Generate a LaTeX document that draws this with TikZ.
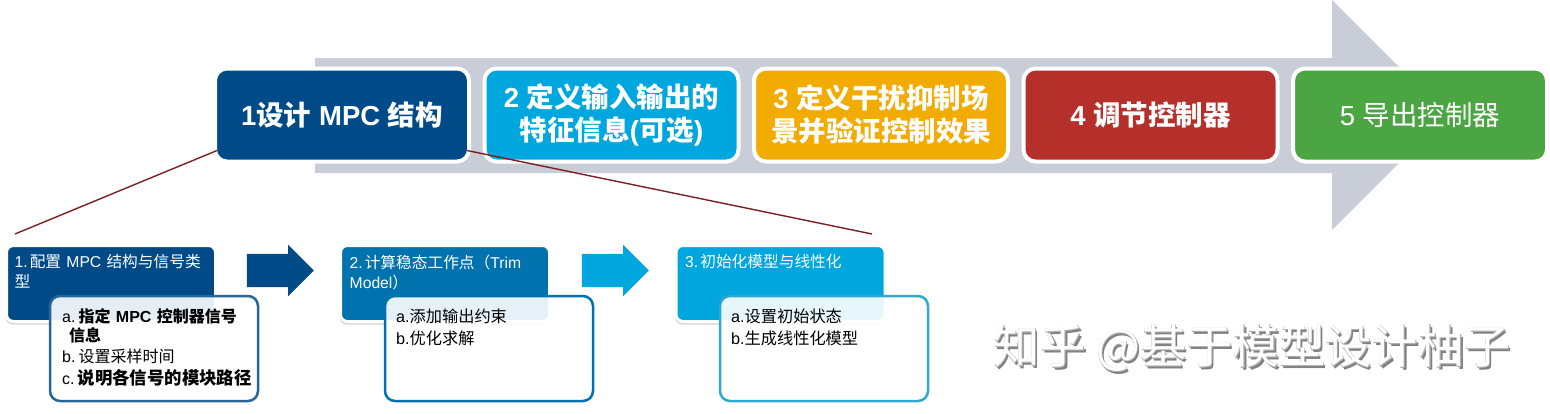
\documentclass[tikz,border=0pt]{standalone}
\usepackage{fontspec}
\setmainfont{Liberation Sans}
\newfontfamily\cjk{Noto Sans CJK SC}
\newfontfamily\wmfont[FakeBold=1.6]{Noto Sans CJK SC}
\newcommand{\zh}[1]{{\cjk #1}}
\newcommand{\stepwidth}{254pt}
\newcommand{\stepheight}{93pt}
\newcommand{\stepgap}{15.5pt}
\newcommand{\subwidth}{209pt}
\newcommand{\subheight}{76pt}
\newcommand{\detailwidth}{208pt}
\newcommand{\detailheight}{105pt}
\newcommand{\wmark}[1]{\rlap{\raisebox{-2.5pt}{\hspace{2.5pt}\textcolor{black!50}{#1}}}\rlap{\textcolor{black!32}{\wmfont #1}}\textcolor{white}{#1}}
\usetikzlibrary{positioning,shadows,shapes.arrows}
\definecolor{flowgray}{HTML}{C8CDD7}
\definecolor{navy}{HTML}{004B87}
\definecolor{sky}{HTML}{00A7DE}
\definecolor{amber}{HTML}{F2AB00}
\definecolor{brick}{HTML}{B5302A}
\definecolor{leaf}{HTML}{4BA543}
\definecolor{midblue}{HTML}{0073AE}
\definecolor{paleblue}{HTML}{30A8D0}
\definecolor{linkred}{HTML}{7A1F22}
\tikzstyle{stepbox}=[draw=white,line width=4pt,rounded corners=12pt,text=white,outer sep=0pt,
                     minimum width=\stepwidth,minimum height=\stepheight,align=center,
                     font=\fontsize{27.5}{33}\selectfont\bfseries]
\tikzstyle{subbox}=[draw=white,line width=3pt,rounded corners=7pt,outer sep=0pt,
                    minimum width=\subwidth,minimum height=\subheight,
                    drop shadow={shadow xshift=-1pt,shadow yshift=-3pt,opacity=0.3}]
\tikzstyle{detailbox}=[line width=2.5pt,rounded corners=10pt,fill=white,fill opacity=0.9,
                       minimum width=\detailwidth,minimum height=\detailheight,outer sep=0pt]
\tikzstyle{subtext}=[text=white,anchor=north west,inner sep=0pt,align=left,text width=198pt,
                     font=\fontsize{15.7}{20}\selectfont]
\tikzstyle{detailtext}=[text=black,anchor=north west,inner sep=0pt,align=left,text width=196pt,
                        font=\fontsize{16.2}{22}\selectfont]
\tikzstyle{flowarrow}=[single arrow,single arrow head extend=9pt,minimum height=67pt,
                       inner ysep=16.5pt,inner xsep=0pt,outer sep=0pt]
\tikzstyle{link}=[draw=linkred,line width=1.4pt]

\begin{document}
\begin{tikzpicture}[x=1pt,y=1pt]
\useasboundingbox (0,-413) rectangle (1550,0);

\fill [flowgray] (315,-58) -- (1332,-58) -- (1332,0) -- (1447,-115) -- (1332,-230) -- (1332,-173) -- (315,-173) -- cycle;

\node [stepbox, fill=navy] (s1) at (342,-115) {1\zh{设计} MPC \zh{结构}};
\node [stepbox, fill=sky, right= \stepgap of s1] (s2) {2 \zh{定义输入输出的}\\\zh{特征信息}(\zh{可选})};
\node [stepbox, fill=amber, right= \stepgap of s2] (s3) {3 \zh{定义干扰抑制场}\\\zh{景并验证控制效果}};
\node [stepbox, fill=brick, right= \stepgap of s3] (s4) {4 \zh{调节控制器}};
\node [stepbox, fill=leaf, right= \stepgap of s4, font=\fontsize{27.5}{33}\selectfont] (s5) {5 \zh{导出控制器}};

\coordinate (c1) at (15,-234);
\coordinate (c2) at (872,-234);
\draw [link] (s1.south west) ++(2,11) -- (c1);
\draw [link] (s1.south east) ++(-2,11) -- (c2);

\node [subbox, fill=navy] (b1) at (111,-283.5) {};
\node [subbox, fill=midblue, right= 125pt of b1] (b2) {};
\node [subbox, fill=sky, right= 126.5pt of b2] (b3) {};

\node [flowarrow, fill=navy] (a1) at (272,-270.5) {};
\node [flowarrow, fill=sky] (a2) at (607,-270.5) {};

\node [subtext, below right= 9pt and 8pt of b1.north west] (t1) {1.\hspace{2pt}\zh{配置} MPC \zh{结构与信号类}\\\zh{型}};
\node [subtext, below right= 9pt and 9pt of b2.north west] (t2) {2.\hspace{2pt}\zh{计算稳态工作点（}Trim\\Model\zh{）}};
\node [subtext, below right= 9pt and 9pt of b3.north west] (t3) {3.\hspace{2pt}\zh{初始化模型与线性化}};

\node [detailbox, draw=navy!85!white] (d1) at (154,-348.5) {};
\node [detailbox, draw=midblue, right= 127pt of d1] (d2) {};
\node [detailbox, draw=paleblue, right= 127pt of d2] (d3) {};

\node [detailtext, below right= 12pt and 12pt of d1.north west] (e1)
  {\fontsize{16}{21}\selectfont a.\hspace{3pt}\textbf{\zh{指定} MPC \zh{控制器信号}}\\[-2pt]
   \hspace*{7pt}\textbf{\zh{信息}}\\
   b.\hspace{3pt}\zh{设置采样时间}\\
   c.\hspace{3pt}\textbf{\fontsize{17.4}{21}\selectfont\zh{说明各信号的模块路径}}};
\node [detailtext, below right= 13pt and 11pt of d2.north west] (e2) {a.\zh{添加输出约束}\\b.\zh{优化求解}};
\node [detailtext, below right= 13pt and 11pt of d3.north west] (e3) {a.\zh{设置初始状态}\\b.\zh{生成线性化模型}};

\node [inner sep=0pt, font=\fontsize{46.3}{50}\selectfont\cjk] (wm) at (1252,-349.5) {\wmark{知乎 @基于模型设计柚子}};
\end{tikzpicture}
\end{document}
